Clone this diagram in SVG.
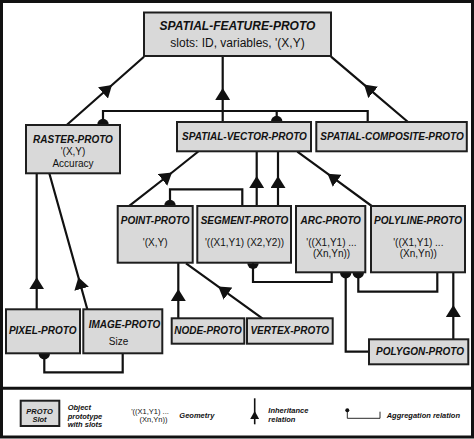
<svg xmlns="http://www.w3.org/2000/svg" width="474" height="439" viewBox="0 0 474 439">
<style>
.box{fill:#d9d9d9;stroke:#1e1e1e;stroke-width:2}
.ln{fill:none;stroke:#111;stroke-width:2.2}
.inh{fill:none;stroke:#111;stroke-width:2.2;marker-mid:url(#arr)}
.dot{fill:#111}
.t{font-family:"Liberation Sans",Arial,sans-serif;font-weight:bold;font-style:italic;font-size:10px;fill:#111;text-anchor:middle}
.tb{font-family:"Liberation Sans",Arial,sans-serif;font-weight:bold;font-style:italic;font-size:12px;fill:#111;text-anchor:middle}
.b{font-family:"Liberation Sans",Arial,sans-serif;font-size:10px;fill:#111;text-anchor:middle}
.bb{font-family:"Liberation Sans",Arial,sans-serif;font-size:12px;fill:#111;text-anchor:middle}
.lg{font-family:"Liberation Sans",Arial,sans-serif;font-weight:bold;font-style:italic;font-size:7.5px;fill:#111}
.lr{font-family:"Liberation Sans",Arial,sans-serif;font-size:7.5px;fill:#111;text-anchor:middle}
</style>
<defs>
<marker id="arr" viewBox="0 0 12 15" refX="12" refY="7.5" markerWidth="12" markerHeight="15" markerUnits="userSpaceOnUse" orient="auto">
<path d="M0,0 L12,7.5 L0,15 Z" fill="#111"/>
</marker>
<marker id="arrs" viewBox="0 0 8 9" refX="8" refY="4.5" markerWidth="8" markerHeight="9" markerUnits="userSpaceOnUse" orient="auto">
<path d="M0,0 L8,4.5 L0,9 Z" fill="#111"/>
</marker>
</defs>
<rect x="0" y="0" width="474" height="439" fill="#fff"/>
<rect x="1.5" y="1.5" width="471" height="435.5" fill="none" stroke="#111" stroke-width="3"/>
<line x1="0" y1="388.2" x2="474" y2="388.2" stroke="#111" stroke-width="3"/>

<g id="connectors">
<!-- inheritance -->
<polyline class="inh" points="66.7,125 112,85 144,56.7"/>
<polyline class="inh" points="222.7,122 222.7,88 222.7,56"/>
<polyline class="inh" points="408,122 364,84.6 331,56.7"/>
<polyline class="inh" points="128.3,206.7 172,172.5 198.3,151.5"/>
<polyline class="inh" points="256.7,206 256.7,176 256.7,151"/>
<polyline class="inh" points="278,206 278,176 278,151"/>
<polyline class="inh" points="371.7,206 327.5,173.7 297.3,151.7"/>
<polyline class="inh" points="36.7,309.3 36.7,277.3 36.7,173.3"/>
<polyline class="inh" points="87.3,309.3 78.4,277.3 49.3,173.3"/>
<polyline class="inh" points="178.3,318.3 178.3,289 178.3,262.7"/>
<polyline class="inh" points="262.3,318.3 218.3,286.6 186,263.3"/>
<polyline class="inh" points="453.3,339.3 453.3,305 453.3,272.3"/>
<!-- aggregation -->
<polyline class="ln" points="103,125 103,111 367.7,111 367.7,122"/>
<line class="ln" x1="276.7" y1="111" x2="276.7" y2="122"/>
<path class="dot" d="M97.3,124.5 A5.7,5.7 0 0 1 108.7,124.5 Z"/>
<path class="dot" d="M271,121.5 A5.7,5.7 0 0 1 282.4,121.5 Z"/>
<polyline class="ln" points="170,206 170,189.3 242.3,189.3 242.3,206"/>
<path class="dot" d="M164.3,205.5 A5.7,5.7 0 0 1 175.7,205.5 Z"/>
<polyline class="ln" points="253,263 253,282 331.7,282 331.7,272.3"/>
<path class="dot" d="M247.3,263.2 A5.7,5.7 0 0 0 258.7,263.2 Z"/>
<polyline class="ln" points="345.7,272.5 345.7,351.7 369,351.7"/>
<path class="dot" d="M340,272.8 A5.7,5.7 0 0 0 351.4,272.8 Z"/>
<polyline class="ln" points="358.3,272.5 358.3,291.7 437.3,291.7 437.3,272.3"/>
<path class="dot" d="M352.6,272.8 A5.7,5.7 0 0 0 364,272.8 Z"/>
<polyline class="ln" points="44.3,353.3 44.3,372.3 122.7,372.3 122.7,353.3"/>
<path class="dot" d="M38.6,353.8 A5.7,5.7 0 0 0 50,353.8 Z"/>
</g>

<g id="spatial-feature-proto">
<rect class="box" x="144" y="12.5" width="187" height="43.5"/>
<text class="tb" x="237.5" y="30.2">SPATIAL-FEATURE-PROTO</text>
<text class="bb" x="237.5" y="47.2">slots: ID, variables, '(X,Y)</text>
</g>
<g id="raster-proto">
<rect class="box" x="26" y="125" width="94" height="48.3"/>
<text class="t" x="73" y="142.8">RASTER-PROTO</text>
<text class="b" x="73" y="155.2">'(X,Y)</text>
<text class="b" x="73" y="166.8">Accuracy</text>
</g>
<g id="spatial-vector-proto">
<rect class="box" x="177" y="122" width="134" height="29.3"/>
<text class="t" x="244.5" y="140.2">SPATIAL-VECTOR-PROTO</text>
</g>
<g id="spatial-composite-proto">
<rect class="box" x="316.3" y="122" width="150.5" height="29.3"/>
<text class="t" x="392" y="140.2">SPATIAL-COMPOSITE-PROTO</text>
</g>
<g id="point-proto">
<rect class="box" x="117.7" y="206" width="75" height="56.7"/>
<text class="t" x="155.2" y="224.2">POINT-PROTO</text>
<text class="b" x="155.2" y="245.8">'(X,Y)</text>
</g>
<g id="segment-proto">
<rect class="box" x="197.3" y="206" width="93.7" height="56.7"/>
<text class="t" x="244.5" y="224.2">SEGMENT-PROTO</text>
<text class="b" x="244.5" y="245.8">'((X1,Y1) (X2,Y2))</text>
</g>
<g id="arc-proto">
<rect class="box" x="296" y="206" width="69.3" height="66.3"/>
<text class="t" x="330.7" y="224.2">ARC-PROTO</text>
<text class="b" x="331.5" y="245.8">'((X1,Y1) ...</text>
<text class="b" x="331.5" y="256.8">(Xn,Yn))</text>
</g>
<g id="polyline-proto">
<rect class="box" x="371" y="206" width="94" height="66.3"/>
<text class="t" x="418" y="224.2">POLYLINE-PROTO</text>
<text class="b" x="418.3" y="245.8">'((X1,Y1) ...</text>
<text class="b" x="418.3" y="256.8">(Xn,Yn))</text>
</g>
<g id="pixel-proto">
<rect class="box" x="6" y="309.3" width="74" height="44"/>
<text class="t" x="42.7" y="334.2">PIXEL-PROTO</text>
</g>
<g id="image-proto">
<rect class="box" x="83.3" y="309.3" width="79" height="44"/>
<text class="t" x="124.5" y="327.5">IMAGE-PROTO</text>
<text class="b" x="118.5" y="344.5">Size</text>
</g>
<g id="node-proto">
<rect class="box" x="171.7" y="318.3" width="72.6" height="25.4"/>
<text class="t" x="208" y="334.2">NODE-PROTO</text>
</g>
<g id="vertex-proto">
<rect class="box" x="247" y="318.3" width="85.7" height="25.4"/>
<text class="t" x="289.7" y="334.2">VERTEX-PROTO</text>
</g>
<g id="polygon-proto">
<rect class="box" x="369" y="339.3" width="99.3" height="25"/>
<text class="t" x="420" y="355.2">POLYGON-PROTO</text>
</g>

<g id="legend">
<rect class="box" x="20.7" y="400.7" width="38.6" height="25.3"/>
<text class="lg" x="39.5" y="414.3" text-anchor="middle">PROTO</text>
<text class="lg" x="39.5" y="421.9" text-anchor="middle">Slot</text>
<text class="lg" x="67.7" y="410.3">Object</text>
<text class="lg" x="67.7" y="418.8">prototype</text>
<text class="lg" x="67.7" y="427.3">with slots</text>
<text class="lr" x="150" y="414.3">'((X1,Y1) ...</text>
<text class="lr" x="153.5" y="421.9">(Xn,Yn))</text>
<text class="lg" x="179.3" y="418.3">Geometry</text>
<polyline fill="none" stroke="#111" stroke-width="1.6" marker-mid="url(#arrs)" points="254.7,424.3 254.7,411 254.7,398.3"/>
<text class="lg" x="268.3" y="413.3">Inheritance</text>
<text class="lg" x="268.3" y="421.9">relation</text>
<polyline fill="none" stroke="#111" stroke-width="0.9" points="347.3,410.3 347.3,418.3 380,418.3 380,411.7"/>
<circle cx="347.3" cy="410.3" r="2" fill="#111"/>
<text class="lg" x="386.7" y="418.3">Aggregation relation</text>
</g>
</svg>
